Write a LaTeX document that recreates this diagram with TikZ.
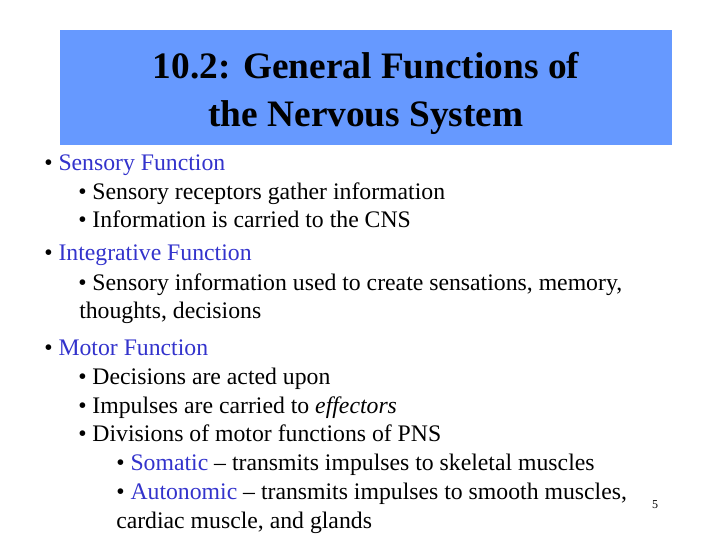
\documentclass[tikz,border=0pt]{standalone}
\usepackage{fontspec}
\setmainfont{Liberation Serif}
\definecolor{titlebg}{HTML}{6699FF}
\definecolor{headblue}{HTML}{3333CC}
\begin{document}
\begin{tikzpicture}[x=0.75pt,y=-0.75pt,
  txt/.style={anchor=base west,inner sep=0pt,font=\fontsize{17.8}{20}\selectfont},
  ttl/.style={anchor=base,inner sep=0pt,font=\fontsize{28}{32}\selectfont\bfseries}]
\useasboundingbox (0,0) rectangle (720,540);
\fill[titlebg] (60,30) rectangle (672,145);
\node[ttl] (t1) at (366,78) {10.2: General Functions of};
\node[ttl] (t2) at (366,126) {the Nervous System};
\node[txt] (a1) at (44,170) {• \textcolor{headblue}{Sensory Function}};
\node[txt] (a2) at (78,199) {• Sensory receptors gather information};
\node[txt] (a3) at (78,227) {• Information is carried to the CNS};
\node[txt] (b1) at (44,260) {• \textcolor{headblue}{Integrative Function}};
\node[txt] (b2) at (78,290) {• Sensory information used to create sensations, memory,};
\node[txt] (b3) at (79,318) {thoughts, decisions};
\node[txt] (c1) at (44,355) {• \textcolor{headblue}{Motor Function}};
\node[txt] (c2) at (78,384) {• Decisions are acted upon};
\node[txt] (c3) at (78,413) {• Impulses are carried to \textit{effectors}};
\node[txt] (c4) at (78,441) {• Divisions of motor functions of PNS};
\node[txt] (c5) at (116,470) {• \textcolor{headblue}{Somatic} – transmits impulses to skeletal muscles};
\node[txt] (c6) at (116,499) {• \textcolor{headblue}{Autonomic} – transmits impulses to smooth muscles,};
\node[txt] (c7) at (116,528) {cardiac muscle, and glands};
\node[anchor=base,inner sep=0pt,font=\fontsize{9}{10}\selectfont] (pg) at (655,508) {5};
\end{tikzpicture}
\end{document}
